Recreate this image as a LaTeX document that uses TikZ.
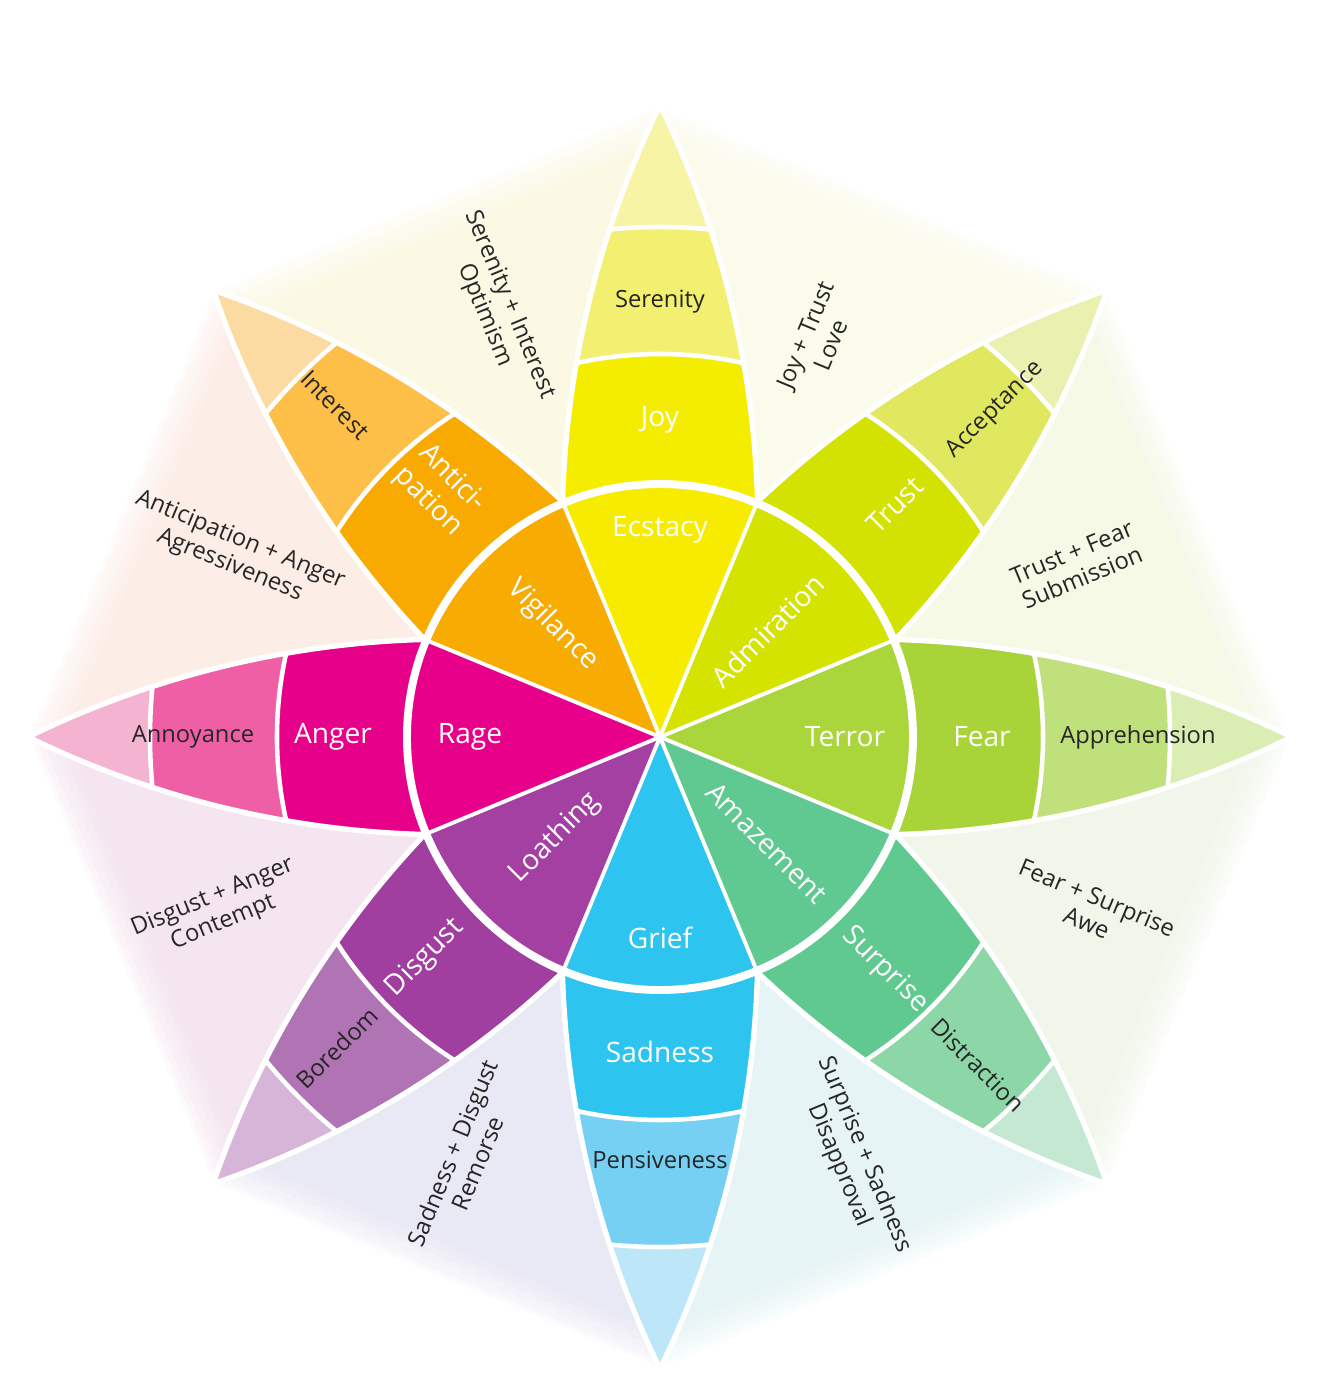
\documentclass[tikz,border=0pt]{standalone}
\usepackage{fontspec}
\setmainfont{Open Sans}
\usepackage{xcolor}
\usepackage{tikz}

%% ── petal colours (tip / outer / middle / inner) ──────────────────────
\definecolor{joytip}{HTML}{F7F4A5}   \definecolor{serenity}{HTML}{F3EF70}
\definecolor{joy}{HTML}{F5ED00}      \definecolor{ecstacy}{HTML}{F7EC00}
\definecolor{trusttip}{HTML}{EAF0B0} \definecolor{acceptance}{HTML}{DFE85F}
\definecolor{trust}{HTML}{D3E200}    \definecolor{admiration}{HTML}{D4E300}
\definecolor{feartip}{HTML}{DAEEB4}  \definecolor{apprehension}{HTML}{BFE07A}
\definecolor{fear}{HTML}{A8D43A}     \definecolor{terror}{HTML}{AAD63C}
\definecolor{surptip}{HTML}{C5E8D3}  \definecolor{distraction}{HTML}{8CD6A8}
\definecolor{surprise}{HTML}{5FC98F} \definecolor{amazement}{HTML}{60C992}
\definecolor{sadtip}{HTML}{BDE7F8}   \definecolor{pensiveness}{HTML}{75D0F4}
\definecolor{sadness}{HTML}{2DC4F0}  \definecolor{grief}{HTML}{2EC4F0}
\definecolor{disgtip}{HTML}{D6B5D9}  \definecolor{boredom}{HTML}{B073B4}
\definecolor{disgust}{HTML}{A03F9F}  \definecolor{loathing}{HTML}{A340A2}
\definecolor{angertip}{HTML}{F4B3D0} \definecolor{annoyance}{HTML}{EF5FA5}
\definecolor{anger}{HTML}{E6008A}    \definecolor{rage}{HTML}{E8008B}
\definecolor{antitip}{HTML}{FCDBA3}  \definecolor{interest}{HTML}{FDBF48}
\definecolor{anticip}{HTML}{F8AA00}  \definecolor{vigilance}{HTML}{F8AB00}
%% ── dyad colours (between the petals) ─────────────────────────────────
\definecolor{optimism}{HTML}{FBF9E4}   \definecolor{love}{HTML}{FAFBEA}
\definecolor{submission}{HTML}{F5F9E6} \definecolor{awe}{HTML}{F0F7EA}
\definecolor{disapproval}{HTML}{E7F4F5}\definecolor{remorse}{HTML}{E9E8F5}
\definecolor{contempt}{HTML}{F5E5F0}   \definecolor{aggressive}{HTML}{FDEDE7}

%% one petal, pointing up, centre of the wheel at the origin
\newcommand\petalpath{(-97.8,209.6) arc[start angle=180, end angle=153.92, radius=960.6]
  arc[start angle=26.08, end angle=0, radius=960.6] -- cycle}

\begin{document}
\begin{tikzpicture}[
  x=0.02cm, y=0.02cm,
  gap/.style={draw=white, line width=2.6pt},
  wlab/.style={text=white, font=\fontsize{16}{19}\selectfont, align=center},
  dlab/.style={text=black!85, font=\fontsize{13.5}{15}\selectfont},
  dyad/.style={text=black!85, font=\fontsize{13.5}{15.5}\selectfont, align=center}
]
\useasboundingbox (-660,-663) rectangle (667,737);
\fill[white] (-660,-663) rectangle (667,737);
%% ── octagon: dyad regions ───────────────────────────────────────────────
\foreach \a/\c in {135/optimism, 90/love, 45/submission, 0/awe,
                   -45/disapproval, -90/remorse, -135/contempt, 180/aggressive}
  \fill[\c] (0,0) -- (\a:634) -- ({\a-45}:634) -- cycle;
%% soft white rim
\foreach \w/\o in {40/0.15, 32/0.2, 24/0.25, 16/0.35, 9/0.5, 4/1}
  \draw[white, opacity=\o, line width=\w pt, line join=round]
    (0:634) \foreach \k in {1,...,7}{ -- ({45*\k}:634) } -- cycle;
%% ── petals ──────────────────────────────────────────────────────────────
\foreach \a/\tip/\mid/\band in {90/joytip/serenity/joy, 45/trusttip/acceptance/trust,
    0/feartip/apprehension/fear, -45/surptip/distraction/surprise,
    -90/sadtip/pensiveness/sadness, -135/disgtip/boredom/disgust,
    180/angertip/annoyance/anger, 135/antitip/interest/anticip}{
  \begin{scope}[rotate=\a-90]
    \begin{scope}
      \clip \petalpath;
      \fill[\tip]  (0,0) circle (640);
      \fill[\mid]  (0,0) circle (510);
      \fill[\band] (0,0) circle (383);
      \draw[gap] (0,0) circle (383) (0,0) circle (510);
    \end{scope}
    \draw[gap, line width=3pt] \petalpath;
  \end{scope}
}
%% ── inner disc ──────────────────────────────────────────────────────────
\foreach \a/\c in {90/ecstacy, 45/admiration, 0/terror, -45/amazement,
                   -90/grief, -135/loathing, 180/rage, 135/vigilance}
  \fill[\c] (0,0) -- ({\a+22.5}:253) arc[start angle=\a+22.5, end angle=\a-22.5, radius=253] -- cycle;
\foreach \a in {22.5,67.5,...,337.5}
  \draw[gap, line width=2.2pt] (0,0) -- (\a:253);
\draw[white, line width=4.5pt] (0,0) circle (253);
%% ── inner labels ────────────────────────────────────────────────────────
\node[wlab] (l-ecstacy)    at (0,207)     {Ecstacy};
\node[wlab, rotate=45]  (l-admiration) at (108,107)  {Admiration};
\node[wlab] (l-terror)     at (185,0)     {Terror};
\node[wlab, rotate=-45] (l-amazement)  at (107,-106) {Amazement};
\node[wlab] (l-grief)      at (0,-201)    {Grief};
\node[wlab, rotate=45]  (l-loathing)   at (-105,-101) {Loathing};
\node[wlab] (l-rage)       at (-190,0)    {Rage};
\node[wlab, rotate=-45] (l-vigilance)  at (-107,112) {Vigilance};
%% ── primary emotions ───────────────────────────────────────────────────
\node[wlab] (l-joy)        at (0,317)     {Joy};
\node[wlab, rotate=45]  (l-trust)      at (235,232)  {Trust};
\node[wlab] (l-fear)       at (322,0)     {Fear};
\node[wlab, rotate=-45] (l-surprise)   at (225,-233) {Surprise};
\node[wlab] (l-sadness)    at (0,-315)    {Sadness};
\node[wlab, rotate=45]  (l-disgust)    at (-235,-221) {Disgust};
\node[wlab] (l-anger)      at (-327,0)    {Anger};
\node[wlab, rotate=-45] (l-anticip)    at (-220,247) {Antici-\\pation};
%% ── mild emotions ──────────────────────────────────────────────────────
\node[dlab] (l-serenity)   at (0,435)     {Serenity};
\node[dlab, rotate=45]  (l-acceptance) at (335,327)  {Acceptance};
\node[dlab] (l-apprehension) at (478,0)   {Apprehension};
\node[dlab, rotate=-45] (l-distraction) at (318,-328) {Distraction};
\node[dlab] (l-pensiveness) at (0,-423)   {Pensiveness};
\node[dlab, rotate=45]  (l-boredom)    at (-323,-311) {Boredom};
\node[dlab] (l-annoyance)  at (-467,0)    {Annoyance};
\node[dlab, rotate=-45] (l-interest)   at (-325,332) {Interest};
%% ── dyads ──────────────────────────────────────────────────────────────
\node[dyad, rotate=-67.5] (d-optimism)    at (-163,427)  {Serenity + Interest\\Optimism};
\node[dyad, rotate=67.5]  (d-love)        at (158,397)   {Joy + Trust\\Love};
\node[dyad, rotate=22.5]  (d-submission)  at (417,172)   {Trust + Fear\\Submission};
\node[dyad, rotate=-22.5] (d-awe)         at (432,-173)  {Fear + Surprise\\Awe};
\node[dyad, rotate=-67.5] (d-disapproval) at (192,-423)  {Surprise + Sadness\\Disapproval};
\node[dyad, rotate=67.5]  (d-remorse)     at (-195,-421) {Sadness + Disgust\\Remorse};
\node[dyad, rotate=22.5]  (d-contempt)    at (-442,-173) {Disgust + Anger\\Contempt};
\node[dyad, rotate=-22.5] (d-aggressive)  at (-425,184)  {Anticipation + Anger\\Agressiveness};
\end{tikzpicture}
\end{document}
